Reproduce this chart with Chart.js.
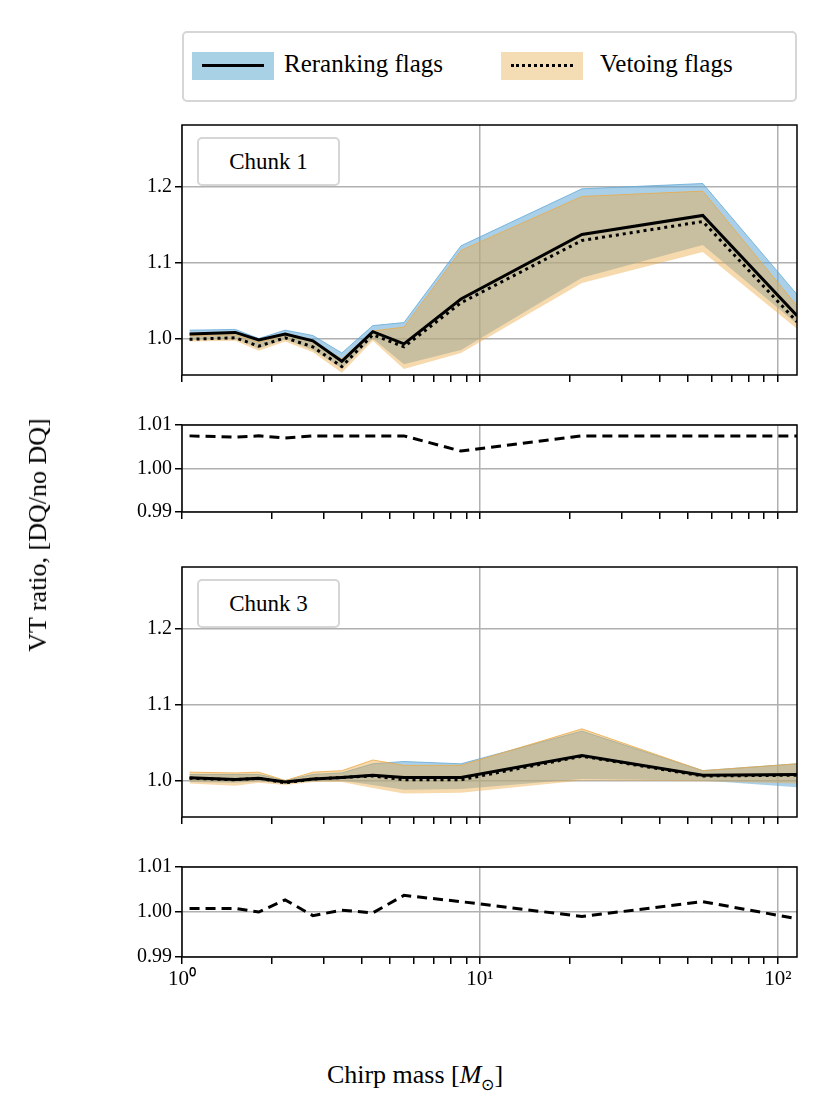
<!DOCTYPE html>
<html>
<head>
<meta charset="utf-8">
<script src="https://cdn.jsdelivr.net/npm/chart.js@4"></script>
<style>
  body { margin: 0; width: 830px; height: 1107px; background: #fff; font-family: "Liberation Serif", serif; position: relative; overflow: hidden; }
  .panel { position: absolute; left: 0; width: 830px; }
  .legend { position: absolute; left: 182px; top: 31px; width: 615px; height: 71px; border: 2px solid #d6d6d6; border-radius: 5px; box-sizing: border-box; }
  .item { position: absolute; top: 17px; font-size: 25px; }
  .patch { position: absolute; top: 19px; width: 82px; height: 28px; }
  .chunk { position: absolute; left: 197px; width: 143px; height: 49px; border: 2px solid #d6d6d6; border-radius: 5px; box-sizing: border-box; background: #fff; font-size: 23px; line-height: 45px; text-align: center; }
  .ylab { position: absolute; left: 38px; top: 535px; transform: translate(-50%, -50%) rotate(-90deg); font-size: 26px; white-space: nowrap; }
  .xlab { position: absolute; left: 415px; top: 1077px; transform: translate(-50%, -50%); font-size: 26px; white-space: nowrap; }
</style>
</head>
<body>
<div class="legend">
  <div class="patch" style="left:8px;background:#a9d1e6"><div style="margin-top:12px;margin-left:10px;width:62px;border-top:3px solid #000"></div></div>
  <div class="item" style="left:100px">Reranking flags</div>
  <div class="patch" style="left:317px;background:#f4dcb4"><div style="margin-top:12px;margin-left:10px;width:62px;border-top:3px dotted #000"></div></div>
  <div class="item" style="left:416px">Vetoing flags</div>
</div>
<div class="panel" style="top:110px;height:280px"><canvas id="c1"></canvas></div>
<div class="panel" style="top:410px;height:117px"><canvas id="c2"></canvas></div>
<div class="panel" style="top:552px;height:280px"><canvas id="c3"></canvas></div>
<div class="panel" style="top:852px;height:145px"><canvas id="c4"></canvas></div>
<div class="chunk" style="top:137px">Chunk 1</div>
<div class="chunk" style="top:579px">Chunk 3</div>
<div class="ylab">VT ratio, [DQ/no DQ]</div>
<div class="xlab">Chirp mass [<i>M</i><sub style="font-size:16px">⊙</sub>]</div>
<script>
// chirp mass bin centres
const mass = [1.06, 1.51, 1.81, 2.22, 2.75, 3.44, 4.37, 5.56, 8.64, 22.0, 56.0, 116];

// chunk 1
const rerank1 = [1.006, 1.008, 0.998, 1.006, 0.997, 0.970, 1.009, 0.993, 1.052, 1.137, 1.162, 1.030];
const veto1 = [0.999, 1.001, 0.990, 1.001, 0.989, 0.963, 1.005, 0.989, 1.047, 1.129, 1.154, 1.022];
const rerankHi1 = [1.011, 1.012, 1.000, 1.011, 1.004, 0.981, 1.017, 1.021, 1.122, 1.197, 1.204, 1.058];
const rerankLo1 = [0.998, 1.000, 0.987, 0.999, 0.985, 0.961, 1.000, 0.966, 0.985, 1.080, 1.123, 1.019];
const vetoHi1 = [1.004, 1.005, 0.995, 1.005, 0.996, 0.973, 1.010, 1.015, 1.116, 1.187, 1.194, 1.043];
const vetoLo1 = [0.996, 0.997, 0.984, 0.996, 0.982, 0.955, 0.997, 0.960, 0.981, 1.073, 1.114, 1.013];
const diff1 = [1.0075, 1.0072, 1.0075, 1.0070, 1.0075, 1.0075, 1.0075, 1.0075, 1.0040, 1.0075, 1.0075, 1.0075];

// chunk 3
const rerank3 = [1.0035, 1.0013, 1.003, 0.998, 1.002, 1.004, 1.007, 1.004, 1.004, 1.033, 1.007, 1.008];
const veto3 = [1.003, 1.001, 1.003, 0.997, 1.002, 1.004, 1.006, 1.001, 1.001, 1.032, 1.006, 1.007];
const rerankHi3 = [1.008, 1.008, 1.008, 1.000, 1.008, 1.010, 1.022, 1.025, 1.022, 1.065, 1.013, 1.022];
const rerankLo3 = [0.998, 0.997, 0.999, 0.996, 0.999, 1.000, 0.994, 0.988, 0.989, 1.002, 1.000, 0.991];
const vetoHi3 = [1.011, 1.010, 1.011, 1.000, 1.011, 1.013, 1.027, 1.020, 1.020, 1.068, 1.013, 1.022];
const vetoLo3 = [0.996, 0.993, 0.997, 0.994, 0.998, 0.998, 0.990, 0.983, 0.984, 1.000, 0.999, 0.996];
const diff3 = [1.0008, 1.0008, 1.0000, 1.0027, 0.9992, 1.0004, 0.9998, 1.0037, 1.0023, 0.9990, 1.0023, 0.9985];

const xTicks = [1,2,3,4,5,6,7,8,9,10,20,30,40,50,60,70,80,90,100];
const xLabels = {1: '10⁰', 10: '10¹', 100: '10²'};

const blue = 'rgba(100,170,215,0.55)';
const orange = 'rgba(235,170,70,0.45)';

function pts(ys) {
  return mass.map((m, i) => ({x: m, y: ys[i]}));
}

const frame = {
  id: 'frame',
  afterDraw(chart) {
    const a = chart.chartArea, ctx = chart.ctx;
    ctx.save();
    ctx.strokeStyle = '#000';
    ctx.lineWidth = 1.5;
    ctx.strokeRect(a.left, a.top, a.right - a.left, a.bottom - a.top);
    ctx.restore();
  }
};

function makeChart(id, datasets, yMin, yMax, yTicks, decimals, showX) {
  return new Chart(document.getElementById(id), {
    type: 'line',
    data: {datasets: datasets},
    options: {
      responsive: true,
      maintainAspectRatio: false,
      animation: false,
      layout: {padding: {top: 10, right: 33, left: 0, bottom: 0}},
      plugins: {legend: {display: false}, tooltip: {enabled: false}},
      elements: {point: {radius: 0}, line: {tension: 0}},
      scales: {
        x: {
          type: 'logarithmic', min: 1, max: 116,
          afterBuildTicks: s => { s.ticks = xTicks.map(v => ({value: v})); },
          afterFit: s => { s.height = showX ? 40 : 10; },
          border: {display: false},
          grid: {
            color: c => (c.tick && xLabels[c.tick.value]) ? '#b0b0b0' : 'rgba(0,0,0,0)',
            tickColor: '#000', tickLength: 7, lineWidth: 1.5
          },
          ticks: {
            display: showX, autoSkip: false, maxRotation: 0, color: '#000',
            font: {family: 'Liberation Serif', size: 21},
            callback: v => xLabels[v] || ''
          }
        },
        y: {
          min: yMin, max: yMax,
          afterBuildTicks: s => { s.ticks = yTicks.map(v => ({value: v})); },
          afterFit: s => { s.width = 182; },
          border: {display: false},
          grid: {color: '#b0b0b0', tickColor: '#000', tickLength: 7, lineWidth: 1.5},
          ticks: {
            color: '#000', font: {family: 'Liberation Serif', size: 20},
            callback: v => v.toFixed(decimals)
          }
        }
      }
    },
    plugins: [frame]
  });
}

function bandSets(rLo, rHi, vLo, vHi, r, v) {
  return [
    {data: pts(rLo), borderWidth: 0, fill: false, order: 3},
    {data: pts(rHi), borderColor: 'rgba(100,170,215,0.8)', borderWidth: 1, backgroundColor: blue, fill: '-1', order: 3},
    {data: pts(vLo), borderWidth: 0, fill: false, order: 2},
    {data: pts(vHi), borderColor: 'rgba(235,170,70,0.8)', borderWidth: 1, backgroundColor: orange, fill: '-1', order: 2},
    {data: pts(r), borderColor: '#000', borderWidth: 3, fill: false, order: 0},
    {data: pts(v), borderColor: '#000', borderWidth: 3, borderDash: [3, 4], fill: false, order: 0}
  ];
}

function diffSet(d) {
  return [{data: pts(d), borderColor: '#000', borderWidth: 3, borderDash: [10, 6], fill: false}];
}

makeChart('c1', bandSets(rerankLo1, rerankHi1, vetoLo1, vetoHi1, rerank1, veto1), 0.952, 1.281, [1.0, 1.1, 1.2], 1, false);
makeChart('c2', diffSet(diff1), 0.99, 1.01, [0.99, 1.0, 1.01], 2, false);
makeChart('c3', bandSets(rerankLo3, rerankHi3, vetoLo3, vetoHi3, rerank3, veto3), 0.952, 1.281, [1.0, 1.1, 1.2], 1, false);
makeChart('c4', diffSet(diff3), 0.99, 1.01, [0.99, 1.0, 1.01], 2, true);
</script>
</body>
</html>
